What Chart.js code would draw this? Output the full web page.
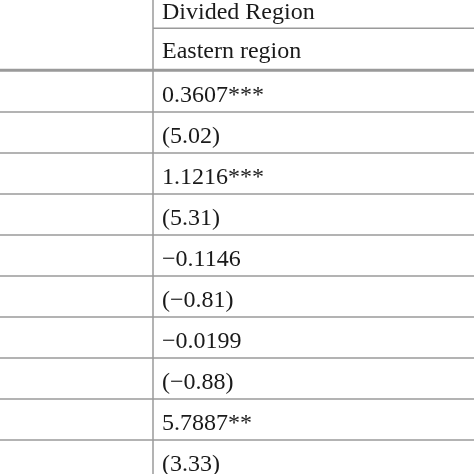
<!DOCTYPE html>
<html><head><meta charset="utf-8">
<script src="https://cdn.jsdelivr.net/npm/chart.js@4"></script>
<style>html,body{margin:0;padding:0;background:#fff}#w{width:474px;height:474px}</style>
</head><body><div id="w"><canvas id="c"></canvas></div>
<script>
const headers = ["Divided Region", "Eastern region"];
const cells = ["0.3607***", "(5.02)", "1.1216***", "(5.31)", "\u22120.1146", "(\u22120.81)", "\u22120.0199", "(\u22120.88)", "5.7887**", "(3.33)"];
const rowIdx = cells.map((_, i) => i);

const tablePlugin = {
  id: 'table',
  afterDraw(chart) {
    const ctx = chart.ctx, xs = chart.scales.x, ys = chart.scales.y;
    const colX = xs.getPixelForValue(153);
    const right = xs.getPixelForValue(474);
    const left = xs.getPixelForValue(0);
    ctx.save();
    ctx.strokeStyle = '#9a9a9a';
    ctx.lineWidth = 1.5;
    ctx.beginPath(); ctx.moveTo(colX, 0); ctx.lineTo(colX, chart.height); ctx.stroke();
    ctx.beginPath(); ctx.moveTo(colX, ys.getPixelForValue(-1.54)); ctx.lineTo(right, ys.getPixelForValue(-1.54)); ctx.stroke();
    ctx.lineWidth = 3;
    ctx.beginPath(); ctx.moveTo(left, ys.getPixelForValue(-0.52)); ctx.lineTo(right, ys.getPixelForValue(-0.52)); ctx.stroke();
    ctx.lineWidth = 1.5;
    rowIdx.forEach(i => {
      const y = ys.getPixelForValue(i + 0.5);
      ctx.beginPath(); ctx.moveTo(left, y); ctx.lineTo(right, y); ctx.stroke();
    });
    ctx.fillStyle = '#1a1a1a';
    ctx.font = '24px "Liberation Serif", "DejaVu Serif", serif';
    ctx.textBaseline = 'middle';
    const tx = xs.getPixelForValue(162);
    ctx.fillText(headers[0], tx, ys.getPixelForValue(-1.91));
    ctx.fillText(headers[1], tx, ys.getPixelForValue(-0.98));
    rowIdx.forEach(i => ctx.fillText(cells[i], tx, ys.getPixelForValue(i + 0.1)));
    ctx.restore();
  }
};

new Chart(document.getElementById('c'), {
  type: 'scatter',
  data: { datasets: [{ data: rowIdx.map(i => ({x: 0, y: i})), pointRadius: 0 }] },
  options: {
    responsive: true, maintainAspectRatio: false, animation: false,
    layout: { padding: 0 },
    plugins: { legend: { display: false }, tooltip: { enabled: false } },
    scales: {
      x: { display: false, min: 0, max: 474 },
      y: { display: false, reverse: true, min: -91.5 / 41, max: (474 - 91.5) / 41 }
    }
  },
  plugins: [tablePlugin]
});
</script></body></html>
